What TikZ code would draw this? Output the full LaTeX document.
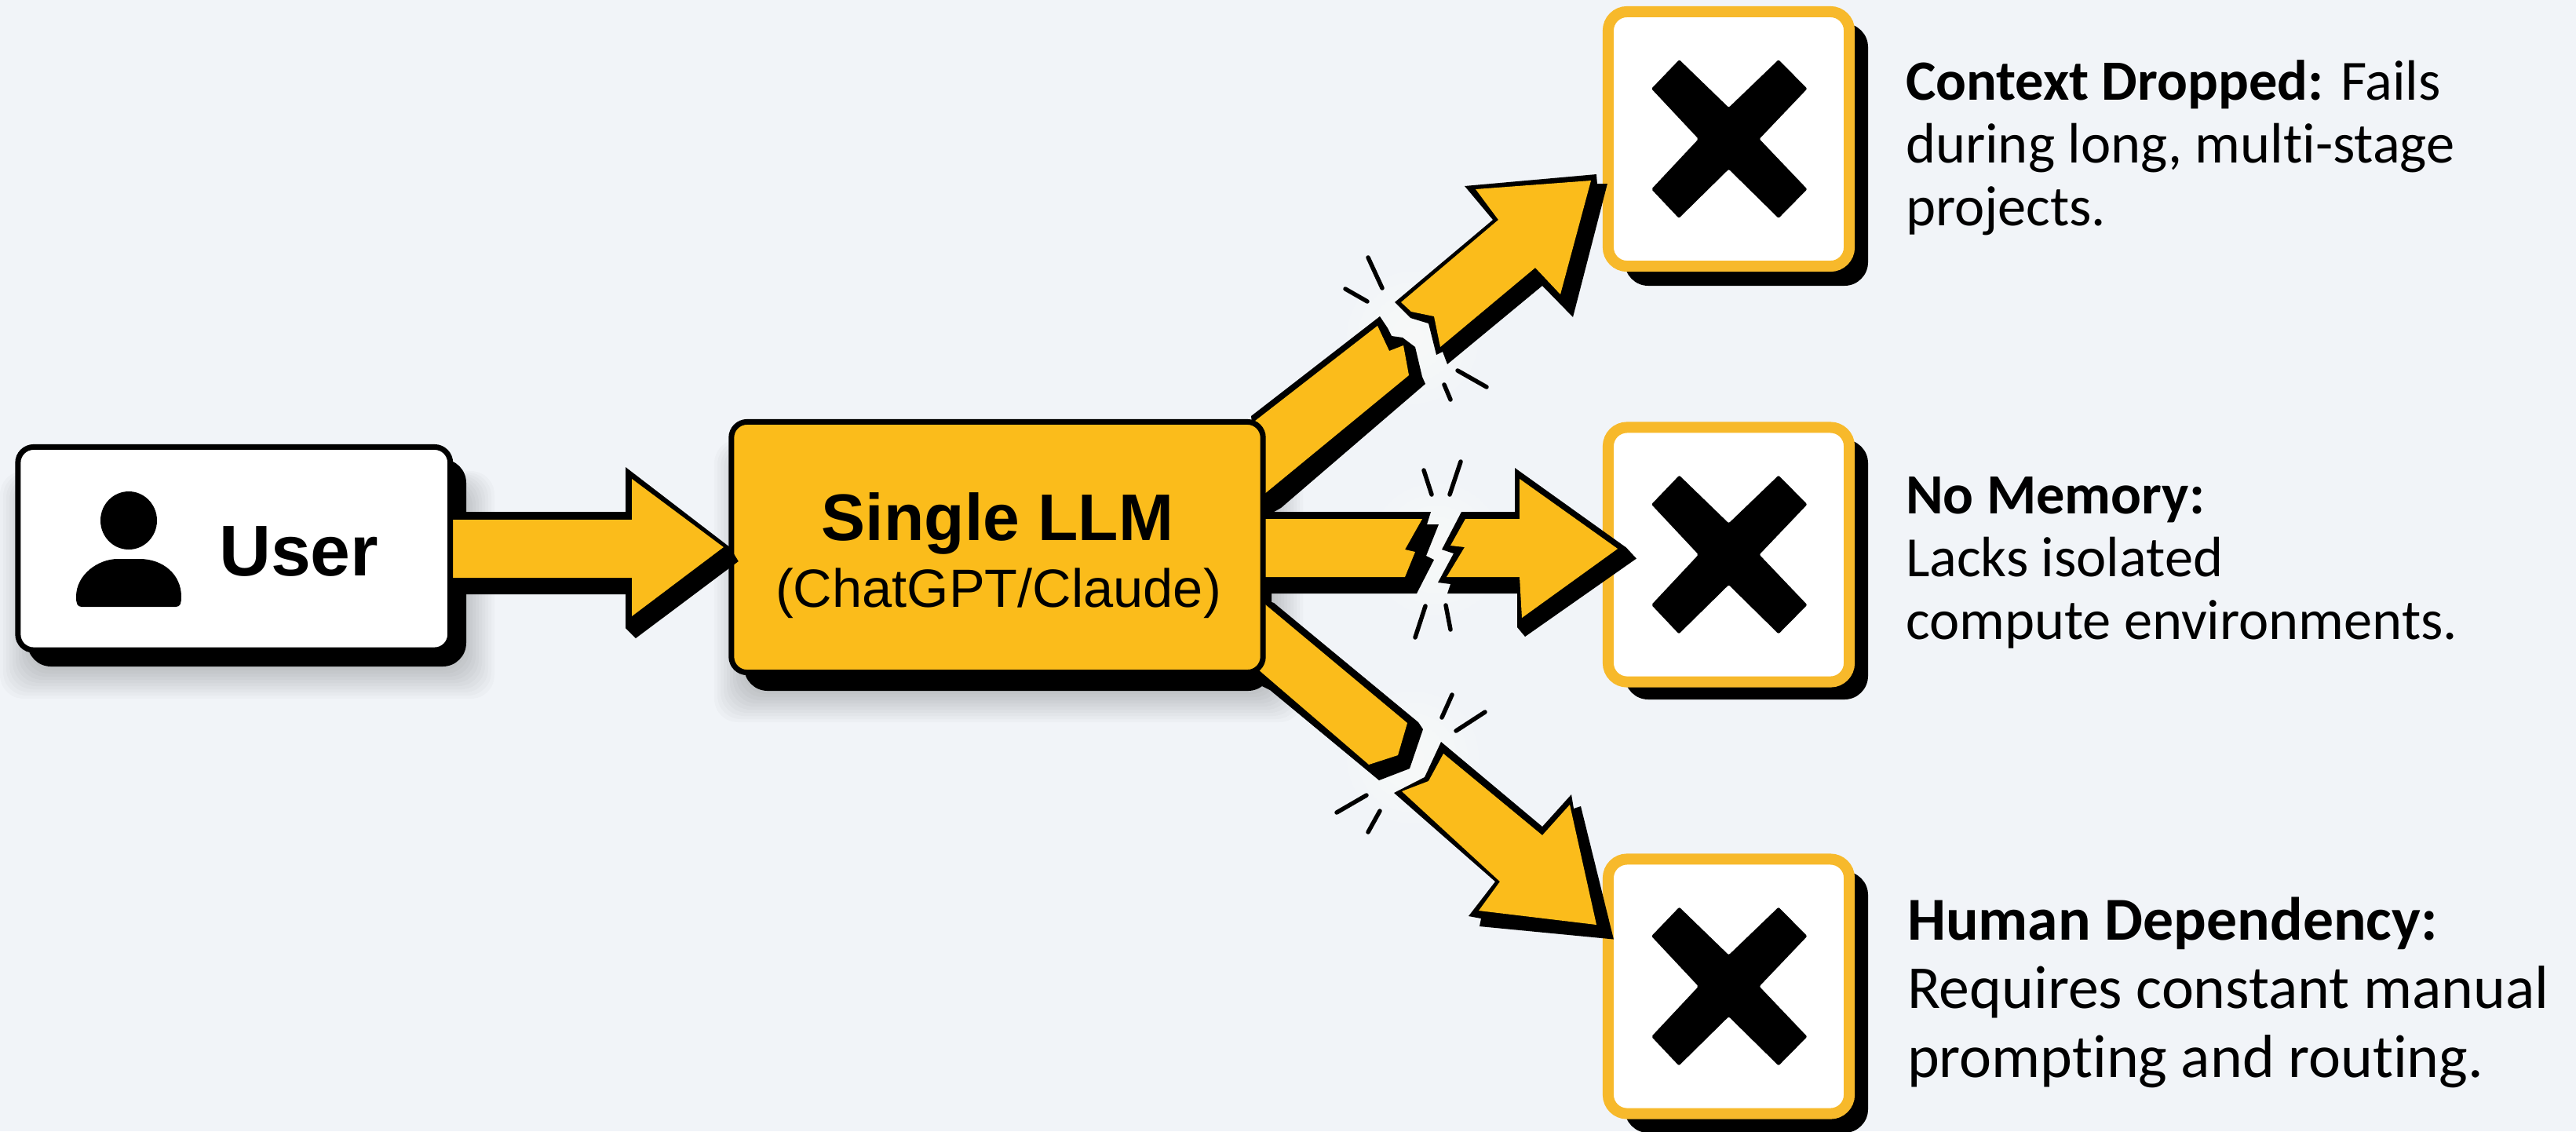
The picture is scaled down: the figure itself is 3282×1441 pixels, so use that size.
\documentclass[tikz,border=0pt]{standalone}
\usepackage{fontspec}
\setmainfont{Liberation Sans}
\newfontfamily\notefont[Ligatures=NoCommon]{Carlito}
\usetikzlibrary{calc}
\definecolor{bgc}{HTML}{F1F4F8}
\definecolor{amber}{HTML}{FBBC1B}
\definecolor{rimc}{HTML}{F7B92B}
\tikzset{
  blackpart/.style={fill=black},
  amberpart/.style={fill=amber},
  llmbox/.style={draw=black,line width=0.07cm,fill=amber,rounded corners=0.2cm,inner sep=0,outer sep=0,align=center},
  userbox/.style={draw=black,line width=0.07cm,fill=white,rounded corners=0.2cm,inner sep=0,outer sep=0},
  failbox/.style={draw=rimc,line width=0.14cm,fill=white,rounded corners=0.24cm,inner sep=0,outer sep=0,minimum width=3.07cm,minimum height=3.24cm},
  hardshadow/.style={fill=black,rounded corners=0.3cm},
  crack/.style={draw=black,line width=0.055cm,line cap=round},
  note/.style={inner sep=0,outer sep=0,anchor=base west,align=left,font=\notefont\fontsize{20.6}{22.75}\selectfont},
  notebig/.style={note,font=\notefont\fontsize{22.1}{24.75}\selectfont},
}
\newcommand{\softshade}[4]{%
  \foreach \k in {1,...,10}{%
    \fill[black,opacity=0.018,rounded corners=0.3cm] (#1-\k*4,#2-\k*2) rectangle (#3+\k*4,#4+\k*4);
  }}
\newcommand{\glowspot}[2]{%
  \foreach \k in {1,...,6}{%
    \fill[white,opacity=0.14] (#1,#2) circle[radius=\k*0.14cm];
  }}
\newcommand{\crossglyph}[1]{%
  \fill[black,rounded corners=0.02cm,shift={(#1)}] (-63,-101) -- (-98.5,-64) -- (-38.5,0) -- (-98.5,64) -- (-63.5,101) -- (0,38.5) -- (63.5,101) -- (100,64) -- (39,0) -- (100,-64) -- (63.5,-101) -- (0,-40) -- cycle;
}
\begin{document}
\begin{tikzpicture}[x=0.01cm,y=-0.01cm]
\useasboundingbox (0,0) rectangle (3282,1441);
\fill[bgc] (0,0) rectangle (3282,1441);

% soft shadows
\softshade{40}{620}{590}{850}
\softshade{950}{580}{1620}{880}

% failure boxes
\fill[hardshadow] (2070,30) rectangle (2380,364);
\fill[hardshadow] (2070,560) rectangle (2380,891);
\fill[hardshadow] (2070,1110) rectangle (2380,1443);
\node[failbox] (xa) at (2202.5,177) {};
\node[failbox] (xb) at (2202.5,706.5) {};
\node[failbox] (xc) at (2202.5,1256.5) {};
\crossglyph{xa.center}
\crossglyph{xb.center}
\crossglyph{xc.center}

% LLM hard shadow
\fill[hardshadow] (948,600) rectangle (1620,880);

% glow round the breaks
\glowspot{1800}{430}
\glowspot{1830}{700}
\glowspot{1800}{965}

% right edge of the LLM box, where the three arrows leave it
\coordinate (llmE) at (1609,697);

% arrow LLM -> box 1, tail piece
\fill[blackpart] ($(llmE)+(-15,-167)$) -- (1758,403) -- (1768,418) -- (1773,428) -- (1787,430) -- (1803,442) -- (1812,480) -- (1816,489) -- (1632,647) -- ($(llmE)+(0,-37)$) -- cycle;
\fill[amberpart] ($(llmE)+(-15,-157)$) -- (1755,415) -- (1770,447) -- (1788,440) -- (1795,478) -- (1610,630) -- ($(llmE)+(-15,-50)$) -- cycle;
% arrow LLM -> box 1, head piece
\fill[blackpart] (1777,385) -- (1902,280) -- (1866,237) -- ($(xa.west)+(-15,45)$) -- ($(xa.west)+(-14,57)$) -- ($(xa.west)+(-1,57)$) -- (2004,404) -- (1965,364) -- (1844,464) -- (1838,448) -- (1830,452) -- (1820,412) -- (1797,405) -- cycle;
\fill[amberpart] (1785,385) -- (1909,280) -- (1880,241) -- (2027,230) -- (1988,375) -- (1956,341) -- (1835,442) -- (1827,403) -- (1798,397) -- cycle;

% arrow LLM -> box 2, tail piece
\fill[blackpart] ($(llmE)+(-9,-45)$) -- (1823,652) -- (1818,668) -- (1833,668) -- (1817,708) -- (1827,713) -- (1805,756) -- ($(llmE)+(-9,59)$) -- cycle;
\fill[amberpart] ($(llmE)+(-9,-36)$) -- (1812,661) -- (1790,700) -- (1803,703) -- (1790,735) -- ($(llmE)+(-9,38)$) -- cycle;
% arrow LLM -> box 2, head piece
\fill[blackpart] (1862,652) -- (1930,652) -- (1930,596) -- ($(xb.west)+(23,-9)$) -- ($(xb.west)+(36,5)$) -- (1943,811) -- (1933,799) -- (1933,756) -- (1844,756) -- (1848,744) -- (1832,742) -- (1852,705) -- (1837,700) -- cycle;
\fill[amberpart] (1867,661) -- (1936,661) -- (1936,610) -- (2061,699) -- (1939,787) -- (1936,735) -- (1843,735) -- (1866,697) -- (1848,695) -- cycle;

% arrow LLM -> box 3, tail piece
\fill[blackpart] ($(llmE)+(-9,63)$) -- (1623,768) -- (1807,920) -- (1813,929) -- (1796,979) -- (1757,994) -- (1618,879) -- ($(llmE)+(-9,173)$) -- cycle;
\fill[amberpart] ($(llmE)+(-9,63)$) -- (1793,921) -- (1781,962) -- (1744,974) -- (1609,858) -- ($(llmE)+(-9,153)$) -- cycle;
% arrow LLM -> box 3, head piece
\fill[blackpart] (1836,945) -- (1965,1053) -- (2002,1012) -- (2005,1030) -- (2014,1027) -- ($(xc.west)+(7,-60)$) -- (1885,1180) -- (1887,1170) -- (1871,1167) -- (1905,1123) -- (1776,1010) -- (1815,990) -- cycle;
\fill[amberpart] (1839,960) -- (1965,1064) -- (2000,1025) -- (2034,1178) -- (1884,1160) -- (1911,1123) -- (1786,1008) -- (1820,995) -- cycle;

% cracks
\draw[crack] (1743,328) -- (1761,367);
\draw[crack] (1714,368) -- (1742,384);
\draw[crack] (1857,472) -- (1894,493);
\draw[crack] (1840,490) -- (1848,509);
\draw[crack] (1814,599) -- (1824,630);
\draw[crack] (1861,588) -- (1847,630);
\draw[crack] (1816,772) -- (1803,812);
\draw[crack] (1842,771) -- (1848,802);
\draw[crack] (1850,885) -- (1837,914);
\draw[crack] (1892,907) -- (1855,931);
\draw[crack] (1741,1013) -- (1703,1035);
\draw[crack] (1758,1033) -- (1743,1060);

% LLM box
\node[llmbox,minimum width=6.77cm,minimum height=3.19cm] (llm) at (1270.5,697) {};
\node[inner sep=0,outer sep=0,anchor=base] (llmtitle) at (1271,688) {\fontsize{23.9}{26}\selectfont\bfseries Single LLM};
\node[inner sep=0,outer sep=0,anchor=base] (llmsub) at (1272,773) {\fontsize{19.5}{22}\selectfont (ChatGPT/Claude)};

% user box shadow
\fill[hardshadow] (35,585) rectangle (594,849);
% arrow User -> LLM
\fill[blackpart] (560,652) -- (797,652) -- (797,595) -- ($(llm.west)+(-2,0)$) -- ($(llm.west)+(9,18)$) -- (810,813) -- (797,800) -- (797,757) -- (560,757) -- cycle;
\fill[amberpart] (560,662) -- (805,662) -- (805,610) -- ($(llm.west)+(-10,0)$) -- (805,785) -- (805,736) -- (560,736) -- cycle;
% user box
\node[userbox,minimum width=5.505cm,minimum height=2.585cm] (user) at (298.25,698.75) {};
\fill[black] (164,663) ellipse[x radius=36,y radius=37];
\fill[black] (104,773) .. controls (98,773) and (97,768) .. (97,760) .. controls (97,732) and (125,712) .. (150,712) -- (178,712) .. controls (208,712) and (231,732) .. (231,760) .. controls (231,768) and (230,773) .. (224,773) -- cycle;
\node[inner sep=0,outer sep=0,anchor=base west] (usertxt) at (279,733) {\fontsize{26}{28}\selectfont\bfseries User};

% notes
\node[note] (n1) at (2428,287) {\textbf{Context Dropped:} Fails\\during long, multi-stage\\projects.};
\node[note] (n2) at (2428,814) {\textbf{No Memory:}\\Lacks isolated\\compute environments.};
\node[notebig] (n3) at (2430,1372) {\textbf{Human Dependency:}\\Requires constant manual\\prompting and routing.};
\end{tikzpicture}
\end{document}
